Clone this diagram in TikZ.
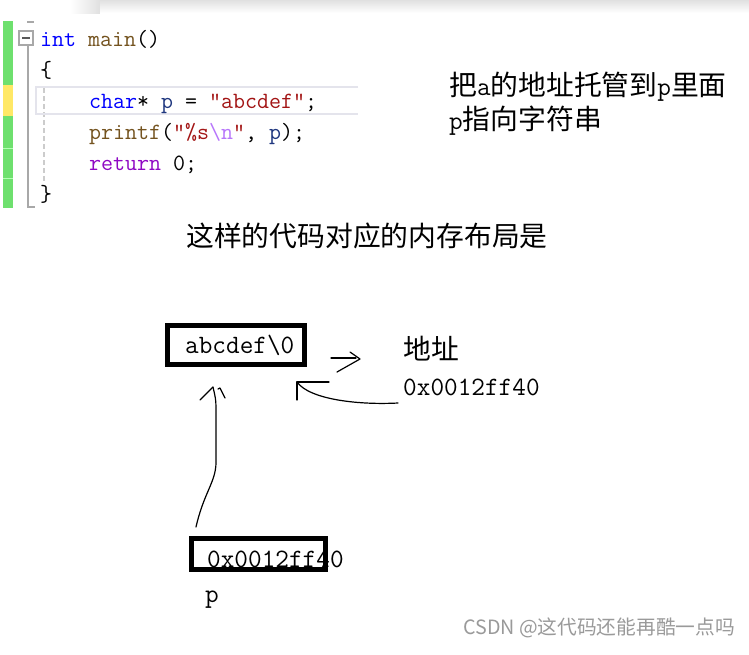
\documentclass[tikz,border=0pt]{standalone}
\usepackage{fontspec}
\newfontfamily\cjk{Noto Sans CJK SC}
\definecolor{kwblue}{HTML}{0000FF}
\definecolor{fnbrown}{HTML}{74531F}
\definecolor{varblue}{HTML}{1F377F}
\definecolor{strred}{HTML}{A31515}
\definecolor{escpurple}{HTML}{B776FB}
\definecolor{retpurple}{HTML}{8F08C4}
\definecolor{gutgreen}{HTML}{6EE06E}
\definecolor{gutyellow}{HTML}{FFE866}
\definecolor{hlgray}{HTML}{E4E4EC}
\definecolor{guidegray}{HTML}{A8A8A8}
\definecolor{wmgray}{HTML}{9A9A9A}
\tikzset{
  code/.style={anchor=base west, inner sep=0pt, font=\fontsize{23.3}{28}\selectfont\ttfamily},
  cn/.style={anchor=base west, inner sep=0pt, font=\fontsize{27.8}{30}\selectfont},
  mono/.style={anchor=base west, inner sep=0pt, font=\fontsize{26.5}{30}\selectfont\ttfamily},
  membox/.style={draw=black, line width=5pt},
  hand/.style={draw=black, line width=1.2pt, line cap=round, line join=round},
}
\begin{document}
\begin{tikzpicture}[x=1pt,y=-1pt]
\useasboundingbox (0,0) rectangle (749,654);
\fill[white] (0,0) rectangle (749,654);
% top shadow
\shade[left color=white, right color=black!12] (70,0) rectangle (100,13);
\shade[top color=black!12, bottom color=white] (100,0) rectangle (749,13);
% gutter
\fill[gutgreen] (3,21) rectangle (13,208);
\fill[gutyellow] (3,85) rectangle (13,116);
\draw[green!30!white, line width=0.6pt] (3,148) -- (13,148) (3,178) -- (13,178);
\draw[guidegray, line width=1.5pt] (27,22) -- (34,22);
\draw[guidegray, line width=1.5pt] (19,31) rectangle (33,45);
\draw[black!65, line width=1.5pt] (22,38) -- (30,38);
\draw[guidegray, line width=1.5pt] (28,46) -- (28,207) -- (35,207);
\draw[black!20, line width=1.5pt, dash pattern=on 5pt off 3pt] (44,88) -- (44,182);
% current line highlight
\draw[hlgray, line width=2pt] (358,87) -- (36,87) -- (36,114) -- (358,114);
% code
\node[code] (l1) at (40,46) {\color{kwblue}int \color{fnbrown}main\color{black}()};
\node[code] (l2) at (40,77) {\{};
\node[code] (l3) at (89,108) {\color{kwblue}char\color{black}* \color{varblue}p \color{black}= \color{strred}"abcdef"\color{black};};
\node[code] (l4) at (89,139) {\color{fnbrown}printf\color{black}(\color{strred}"\%s\color{escpurple}\textbackslash n\color{strred}"\color{black}, \color{varblue}p\color{black});};
\node[code] (l5) at (89,170) {\color{retpurple}return \color{black}0;};
\node[code] (l6) at (40,201) {\}};
% notes
\node[cn] (n1) at (449,95) {{\cjk 把}{\ttfamily\fontsize{26.5}{30}\selectfont a}{\cjk 的地址托管到}{\ttfamily\fontsize{26.5}{30}\selectfont p}{\cjk 里面}};
\node[cn] (n2) at (449,129) {{\ttfamily\fontsize{26.5}{30}\selectfont p}{\cjk 指向字符串}};
\node[cn] (n3) at (186,246) {\cjk 这样的代码对应的内存布局是};
% memory boxes
\draw[membox] (167.5,325.5) rectangle (304.5,364.5);
\node[mono] (str) at (185,353) {abcdef\textbackslash 0};
\draw[membox] (191.5,538.5) rectangle (325.5,569.5);
\node[mono] (pval) at (207,567) {0x0012ff40};
\node[mono] (pname) at (205,602) {p};
\node[cn] (addrlbl) at (403,359) {\cjk 地址};
\node[mono] (addr) at (403,395) {0x0012ff40};
% hand-drawn arrows
\coordinate (va0) at (196,527);
\coordinate (va1) at (213,387);
\draw[hand] (va0) .. controls (204,492) and (216,482) .. (216,462) -- (216,415) .. controls (216,400) .. (va1);
\draw[hand] (200,400) -- (va1);
\draw[hand] (218,389) -- (220,388) -- (225,398);
\coordinate (sa0) at (331,358);
\coordinate (sa1) at (356,358);
\draw[hand] (sa0) -- (sa1);
\draw[hand] (350,352) -- (360,359) -- (337,372);
\coordinate (ca0) at (398,403);
\coordinate (ca1) at (297,382);
\draw[hand] (ca0) .. controls (360,405) and (310,400) .. (ca1);
\draw[hand] (297,400) -- (ca1) -- (329,382);
% watermark
\node[anchor=base west, inner sep=0pt, text=wmgray, font=\fontsize{19.7}{22}\selectfont\cjk] (wm) at (463,634) {CSDN @这代码还能再酷一点吗};
\end{tikzpicture}
\end{document}
